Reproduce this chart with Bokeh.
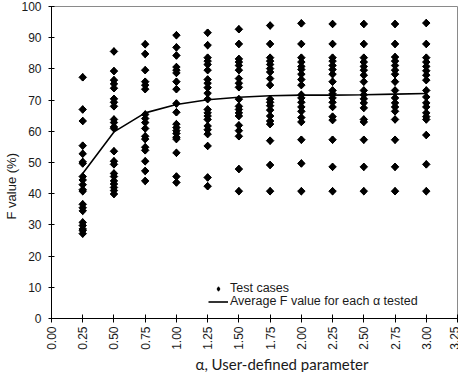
import math
from bokeh.plotting import figure
from bokeh.models import (Range1d, FixedTicker, NumeralTickFormatter, Legend,
                          LegendItem, Title)
from bokeh.embed import file_html
from bokeh.resources import INLINE

# ---- data ----
alphas = [0.25, 0.50, 0.75, 1.00, 1.25, 1.50, 1.75, 2.00, 2.25, 2.50, 2.75, 3.00]

f_025 = [77.3, 67.0, 63.3, 55.4, 52.8, 50.2, 49.7, 45.5, 44.4, 42.9, 41.3, 40.8,
         36.6, 35.5, 34.5, 30.8, 29.8, 28.7, 28.2, 27.2]
f_050 = [85.6, 79.3, 76.4, 75.2, 73.8, 70.4, 69.3, 68.0, 63.8, 62.8, 61.4, 60.9,
         53.6, 50.4, 49.4, 46.5, 45.5, 44.1, 43.1, 42.0, 41.0, 39.9]
f_075 = [87.9, 84.8, 79.6, 75.9, 74.8, 73.5, 65.4, 64.1, 62.8, 60.9, 58.4, 57.5,
         54.9, 53.9, 50.4, 47.3, 44.1]
f_100 = [90.8, 86.9, 84.3, 80.6, 79.6, 78.7, 75.9, 73.5, 68.9, 66.1, 62.3, 61.2,
         60.2, 59.3, 58.1, 57.5, 53.1, 45.5, 43.6]
f_125 = [91.6, 87.6, 83.6, 82.5, 81.4, 79.6, 76.6, 75.4, 74.0, 72.2, 70.3, 67.0,
         65.9, 64.9, 63.8, 61.7, 60.5, 59.1, 55.3, 45.2, 42.4]
f_150 = [92.7, 88.0, 83.2, 82.2, 81.1, 79.6, 76.9, 75.4, 74.1, 70.3, 68.0, 67.0,
         65.9, 64.9, 61.9, 60.2, 58.4, 47.9, 40.8]
f_175 = [93.9, 88.0, 83.6, 82.5, 81.4, 80.1, 79.0, 76.9, 74.8, 70.3, 69.3, 68.2,
         66.8, 64.9, 63.3, 62.3, 57.0, 49.2, 40.8]
f_200 = [94.6, 88.0, 83.6, 82.2, 80.8, 79.8, 78.3, 76.6, 74.8, 71.7, 70.7, 69.3,
         67.8, 66.4, 64.4, 63.0, 57.3, 49.7, 40.8]
f_225 = [94.4, 88.0, 83.6, 82.5, 81.1, 79.8, 78.3, 75.9, 73.1, 72.0, 70.7, 69.3,
         67.8, 64.7, 63.6, 57.3, 48.6, 40.8]
f_250 = [94.4, 88.0, 83.6, 82.2, 80.8, 79.6, 78.0, 75.9, 73.1, 71.7, 70.4, 69.1,
         67.5, 63.8, 63.0, 57.3, 48.6, 40.8]
f_275 = [94.4, 88.0, 83.8, 82.5, 81.1, 79.6, 78.3, 75.9, 73.1, 70.7, 69.1, 67.8,
         66.4, 63.8, 57.3, 48.6, 40.8]
f_300 = [94.7, 88.0, 83.6, 82.2, 80.8, 79.4, 78.0, 76.4, 73.1, 71.0, 69.1, 67.8,
         65.9, 64.7, 63.8, 58.8, 49.4, 40.8]

avg_f = [46.5, 59.8, 65.9, 68.6, 70.1, 70.9, 71.4, 71.6, 71.6, 71.7, 71.9, 72.1]

x_ticks = [0.00, 0.25, 0.50, 0.75, 1.00, 1.25, 1.50, 1.75, 2.00, 2.25, 2.50,
           2.75, 3.00, 3.25]
y_ticks = [0, 10, 20, 30, 40, 50, 60, 70, 80, 90, 100]

x_title = "α, User-defined parameter"
y_title = "F value (%)"
legend_labels = ["Test cases", "Average F value for each α tested"]

columns = [f_025, f_050, f_075, f_100, f_125, f_150, f_175, f_200, f_225,
           f_250, f_275, f_300]
xs, ys = [], []
for a, col in zip(alphas, columns):
    xs += [a] * len(col)
    ys += col

# ---- figure ----
p = figure(width=458, height=367, frame_width=406, frame_height=312,
           min_border_left=51, min_border_right=1, min_border_top=6,
           min_border_bottom=49,
           x_range=Range1d(0, 3.25), y_range=Range1d(0, 100),
           output_backend="svg", toolbar_location=None, tools="")
p.background_fill_color = "white"
p.border_fill_color = "white"
p.outline_line_color = "#8a8a8a"
p.outline_line_width = 1
p.xgrid.visible = False
p.ygrid.visible = False

TXT = "#1a1a1a"
for ax in (p.xaxis[0], p.yaxis[0]):
    ax.axis_line_color = "black"
    ax.axis_line_width = 1
    ax.major_tick_line_color = "black"
    ax.minor_tick_line_color = None
    ax.major_label_text_font = "Liberation Sans"
    ax.major_label_text_font_size = "12px"
    ax.major_label_text_color = TXT

p.xaxis.ticker = FixedTicker(ticks=x_ticks)
p.xaxis.formatter = NumeralTickFormatter(format="0.00")
p.xaxis.major_label_orientation = math.pi / 2
p.xaxis.major_tick_in = 4
p.xaxis.major_tick_out = 4
p.xaxis.major_label_standoff = 4

p.yaxis.ticker = FixedTicker(ticks=y_ticks)
p.yaxis.major_tick_in = 3
p.yaxis.major_tick_out = 3
p.yaxis.major_label_standoff = 7

# diamond drawn underneath (hidden by the rotated squares) -> legend symbol
leg_marker = p.scatter(xs, ys, marker="diamond", size=7.4, color="black")
sc = p.scatter(xs, ys, marker="square", angle=math.pi / 4, size=5.3,
               color="black")
ln = p.line(alphas, avg_f, line_color="black", line_width=1.6)

legend_style = dict(border_line_color=None, background_fill_alpha=0,
                    padding=0, margin=0, spacing=0, glyph_width=20,
                    glyph_height=11, label_height=11, label_standoff=2,
                    label_text_font="Liberation Sans",
                    label_text_font_size="12.5px", label_text_color=TXT)
leg1 = Legend(items=[LegendItem(label=legend_labels[0], renderers=[leg_marker])],
              location=(157, 23), **legend_style)
leg2 = Legend(items=[LegendItem(label=legend_labels[1], renderers=[ln])],
              location=(157, 10), **legend_style)
p.add_layout(leg1)
p.add_layout(leg2)

# ---- axis titles ----
p.add_layout(Title(text=x_title, align="left", offset=144, standoff=0,
                   text_font="Lato", text_font_size="15px",
                   text_font_style="normal", text_color=TXT), "below")
p.add_layout(Title(text=y_title, align="left", offset=99, standoff=0,
                   text_font="Liberation Sans", text_font_size="13px",
                   text_font_style="normal", text_color=TXT), "left")

open("out.html", "w").write(file_html(p, INLINE))
